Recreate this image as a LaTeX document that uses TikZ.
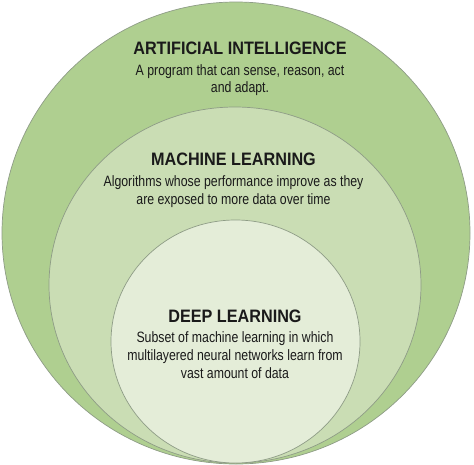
\documentclass[tikz,border=0pt]{standalone}
\usepackage{fontspec}
\newfontfamily\dgfont[FakeStretch=0.9]{Liberation Sans}
\newfontfamily\dgbody[FakeStretch=0.82]{Liberation Sans}
\usetikzlibrary{positioning,shapes.geometric}
\usepackage{xcolor}
\definecolor{aiGreen}{HTML}{AFCF90}
\definecolor{mlGreen}{HTML}{CADDB4}
\definecolor{dlGreen}{HTML}{E4EDD8}
\definecolor{zoneLine}{HTML}{8E9C86}
\definecolor{txtDark}{HTML}{1A1A1A}

\begin{document}
\begin{tikzpicture}[x=1pt, y=-1pt,
  zone/.style={ellipse, draw=zoneLine, line width=0.7pt, inner sep=0pt},
  ttl/.style={font=\dgfont\bfseries\fontsize{18}{20}\selectfont, text=txtDark, inner sep=0pt},
  txt/.style={font=\dgbody\fontsize{15}{17.8}\selectfont, text=txtDark, align=center, inner sep=0pt}]
\useasboundingbox (0,0) rectangle (474,464);
\clip (0,0) rectangle (474,464);
\fill[white] (0,0) rectangle (474,464);

% ── nested zones ──
\node[zone, fill=aiGreen, minimum width=468pt, minimum height=462pt] (ai) at (236,233) {};
\node[zone, fill=mlGreen, minimum width=372pt, minimum height=356pt] (ml) at (235,285) {};
\node[zone, fill=dlGreen, minimum width=249pt, minimum height=243pt] (dl) at (235.5,341.5) {};

% ── labels ──
\node[ttl] (aiT) at (240,48.5) {ARTIFICIAL INTELLIGENCE};
\node[txt, below=9pt of aiT] (aiB) {A program that can sense, reason, act\\and adapt.};
\node[ttl] (mlT) at (233.5,159.5) {MACHINE LEARNING};
\node[txt, below=9.5pt of mlT] (mlB) {Algorithms whose performance improve as they\\are exposed to more data over time};
\node[ttl] (dlT) at (235,316.5) {DEEP LEARNING};
\node[txt, below=8.5pt of dlT] (dlB) {Subset of machine learning in which\\multilayered neural networks learn from\\vast amount of data};
\end{tikzpicture}
\end{document}
